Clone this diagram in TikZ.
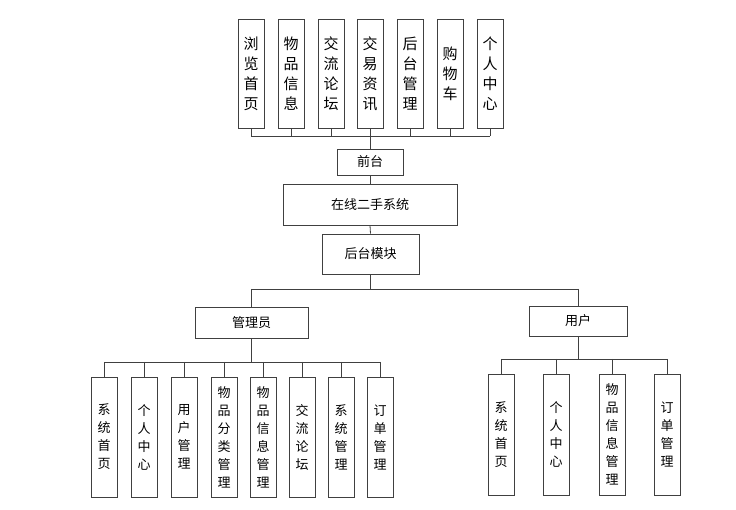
\documentclass[tikz,border=0pt]{standalone}
\usepackage{fontspec}
\setmainfont{Noto Sans CJK SC}
\usetikzlibrary{calc}

\begin{document}
\begin{tikzpicture}[x=1pt,y=-1pt,
  box/.style={draw=black!75,line width=0.8pt,fill=white,inner sep=0pt,align=center},
  topbox/.style={box,minimum width=26pt,minimum height=109pt,font=\fontsize{15}{20}\selectfont},
  subbox/.style={box,minimum width=26pt,minimum height=120pt,font=\fontsize{13}{18}\selectfont},
  midbox/.style={box,font=\fontsize{13}{16}\selectfont},
  link/.style={draw=black!75,line width=0.8pt}]
  \useasboundingbox (0,0) rectangle (736,510);
  % front end pages
  \node[topbox] (t1) at (251,73.5) {浏\\览\\首\\页};
  \node[topbox] (t2) at (291,73.5) {物\\品\\信\\息};
  \node[topbox] (t3) at (331,73.5) {交\\流\\论\\坛};
  \node[topbox] (t4) at (370,73.5) {交\\易\\资\\讯};
  \node[topbox] (t5) at (410,73.5) {后\\台\\管\\理};
  \node[topbox] (t6) at (450,73.5) {购\\物\\车};
  \node[topbox] (t7) at (490,73.5) {个\\人\\中\\心};
  % main column
  \node[midbox,minimum width=66pt,minimum height=26pt] (front) at (370,162) {前台};
  \node[midbox,minimum width=174pt,minimum height=41pt] (sys) at (370,204.5) {在线二手系统};
  \node[midbox,minimum width=97pt,minimum height=40pt] (back) at (370.5,254) {后台模块};
  \node[midbox,minimum width=113pt,minimum height=31pt] (admin) at (251.5,322.5) {管理员};
  \node[midbox,minimum width=98pt,minimum height=30pt] (user) at (578,321) {用户};
  % admin modules
  \node[subbox] (a1) at (104,437) {系\\统\\首\\页};
  \node[subbox] (a2) at (144,437) {个\\人\\中\\心};
  \node[subbox] (a3) at (184,437) {用\\户\\管\\理};
  \node[subbox] (a4) at (224,437) {物\\品\\分\\类\\管\\理};
  \node[subbox] (a5) at (263,437) {物\\品\\信\\息\\管\\理};
  \node[subbox] (a6) at (302,437) {交\\流\\论\\坛};
  \node[subbox] (a7) at (341,437) {系\\统\\管\\理};
  \node[subbox] (a8) at (380,437) {订\\单\\管\\理};
  % user modules
  \node[subbox,minimum height=121pt] (u1) at (501,434.5) {系\\统\\首\\页};
  \node[subbox,minimum height=121pt] (u2) at (556,434.5) {个\\人\\中\\心};
  \node[subbox,minimum height=121pt] (u3) at (612,434.5) {物\\品\\信\\息\\管\\理};
  \node[subbox,minimum height=121pt] (u4) at (667,434.5) {订\\单\\管\\理};
  % bus points
  \coordinate (tb) at (370,136);
  \coordinate (mb) at (370.5,289);
  \coordinate (ab) at (251.5,362);
  \coordinate (ub) at (578,359);
  % top tree
  \draw[link] (t1.south) -- (t1.south |- tb);
  \draw[link] (t2.south) -- (t2.south |- tb);
  \draw[link] (t3.south) -- (t3.south |- tb);
  \draw[link] (t4.south) -- (t4.south |- tb);
  \draw[link] (t5.south) -- (t5.south |- tb);
  \draw[link] (t6.south) -- (t6.south |- tb);
  \draw[link] (t7.south) -- (t7.south |- tb);
  \draw[link] (t1.south |- tb) -- (t7.south |- tb);
  \draw[link] (tb) -- (front.north);
  \draw[link] (front.south) -- (sys.north);
  \draw[link] (sys.south) -- (back.north);
  % middle split
  \draw[link] (back.south) -- (mb);
  \draw[link] (admin.north |- mb) -- (user.north |- mb);
  \draw[link] (admin.north |- mb) -- (admin.north);
  \draw[link] (user.north |- mb) -- (user.north);
  % admin tree
  \draw[link] (admin.south) -- (ab);
  \draw[link] (a1.north |- ab) -- (a8.north |- ab);
  \draw[link] (a1.north |- ab) -- (a1.north);
  \draw[link] (a2.north |- ab) -- (a2.north);
  \draw[link] (a3.north |- ab) -- (a3.north);
  \draw[link] (a4.north |- ab) -- (a4.north);
  \draw[link] (a5.north |- ab) -- (a5.north);
  \draw[link] (a6.north |- ab) -- (a6.north);
  \draw[link] (a7.north |- ab) -- (a7.north);
  \draw[link] (a8.north |- ab) -- (a8.north);
  % user tree
  \draw[link] (user.south) -- (ub);
  \draw[link] (u1.north |- ub) -- (u4.north |- ub);
  \draw[link] (u1.north |- ub) -- (u1.north);
  \draw[link] (u2.north |- ub) -- (u2.north);
  \draw[link] (u3.north |- ub) -- (u3.north);
  \draw[link] (u4.north |- ub) -- (u4.north);
\end{tikzpicture}
\end{document}
